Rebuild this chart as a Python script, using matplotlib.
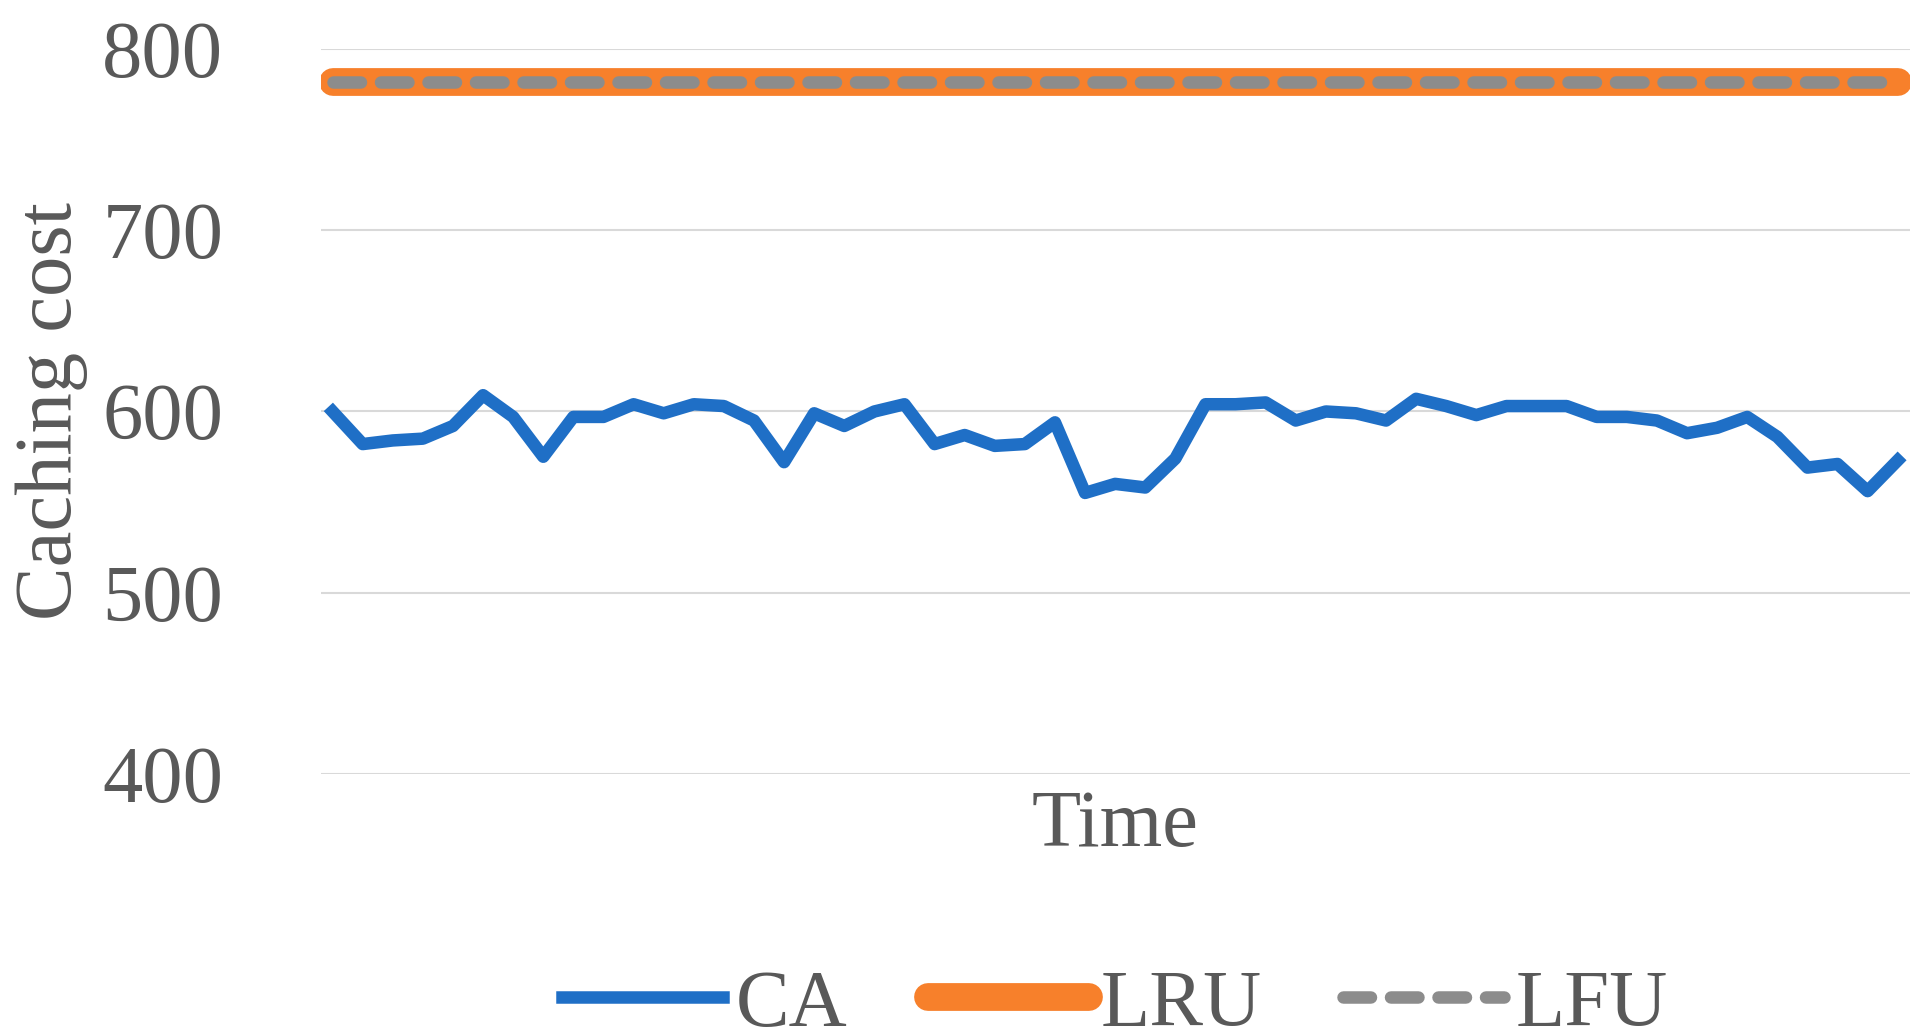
import matplotlib.pyplot as plt
import numpy as np

plt.rcParams['font.family'] = ['Liberation Serif', 'DejaVu Serif']

ca = [600, 582, 584, 585, 592, 609, 597, 575, 597, 597, 604, 599, 604, 603, 595,
      572, 599, 592, 600, 604, 582, 587, 581, 582, 594, 555, 560, 558, 574, 604,
      604, 605, 595, 600, 599, 595, 607, 603, 598, 603, 603, 603, 597, 597, 595,
      588, 591, 597, 586, 569, 571, 556, 573]
lru_value = 782
lfu_value = 782
x = np.arange(len(ca))

fig = plt.figure(figsize=(19.31, 10.30), dpi=100)
ax = fig.add_axes([0.166, 0.249, 0.823, 0.703])

ax.plot(x, ca, color='#1f6fc6', lw=9, solid_joinstyle='round', label='CA')
ax.plot(x, [lru_value] * len(x), color='#f7802b', lw=20, solid_capstyle='round', label='LRU')
ax.plot(x, [lfu_value] * len(x), color='#8c8c8c', lw=9, ls=(0, (2.2, 1.6)), dash_capstyle='round', label='LFU')

ax.set_ylim(400, 800)
ax.set_xlim(-0.4, len(x) - 0.6)
ax.set_yticks([400, 500, 600, 700, 800])
ax.set_xticks([])
ax.grid(axis='y', color='#d9d9d9', lw=1.5)
ax.set_axisbelow(True)
for s in ax.spines.values():
    s.set_visible(False)
ax.tick_params(axis='y', length=0, labelsize=58, labelcolor='#595959', pad=70)
ax.set_ylabel('Caching cost', fontsize=58, color='#595959', labelpad=10)
ax.set_xlabel('Time', fontsize=58, color='#595959', labelpad=12)

ax.legend(loc='upper center', bbox_to_anchor=(0.5, -0.17), ncol=3, frameon=False,
          fontsize=58, labelcolor='#595959', handlelength=2.0, columnspacing=1.0,
          handletextpad=0.15)

fig.savefig('out.png', dpi=100)
